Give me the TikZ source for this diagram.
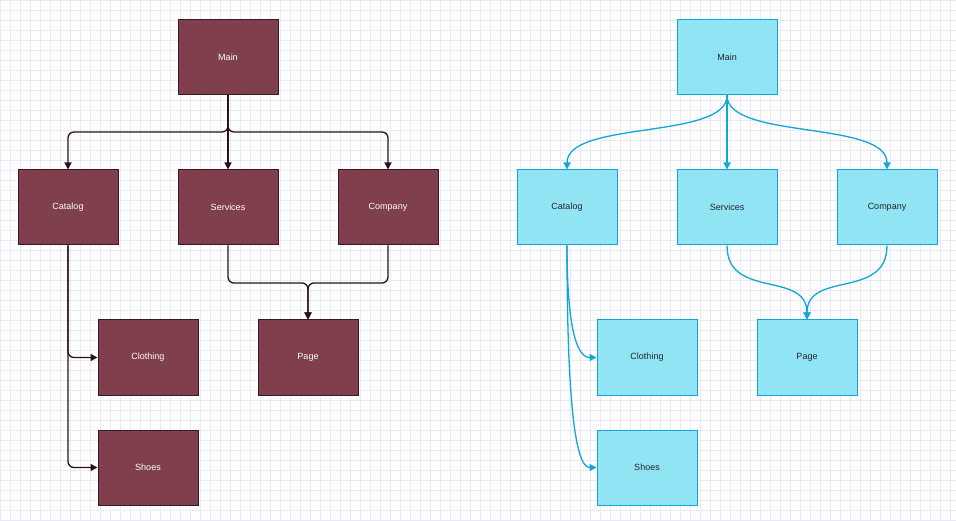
\documentclass[tikz,border=0pt]{standalone}
\usepackage{fontspec}
\setmainfont{Liberation Sans}
\usetikzlibrary{arrows.meta}
\definecolor{lf}{HTML}{7F3F4C}
\definecolor{lb}{HTML}{3A1A22}
\definecolor{la}{HTML}{2A1018}
\definecolor{rf}{HTML}{90E4F4}
\definecolor{rb}{HTML}{10A6D8}
\definecolor{gr}{HTML}{E9E9F7}
\begin{document}
\begin{tikzpicture}[x=1pt,y=-1pt,
  box/.style={draw,minimum width=100pt,minimum height=75pt,inner sep=0pt,font=\fontsize{9}{11}\selectfont,line width=1pt},
  lbox/.style={box,fill=lf,draw=lb,text=white},
  rbox/.style={box,fill=rf,draw=rb,text=black!85},
  la/.style={draw=la,line width=1.3pt,rounded corners=6pt,-{Triangle[length=7pt,width=7pt]}},
  ra/.style={draw=rb,line width=1.3pt,-{Triangle[length=7pt,width=7pt]}}]
\useasboundingbox (0,0) rectangle (956,521);
\fill[white] (0,0) rectangle (956,521);
\draw[gr,line width=0.4pt] (0,0) grid[step=10pt] (956,521);
% left
\node[lbox] (m) at (228,57.5) {Main};
\node[lbox] (c) at (68,207.5) {Catalog};
\node[lbox] (s) at (228,207.5) {Services};
\node[lbox] (co) at (388,207.5) {Company};
\node[lbox] (cl) at (148,357.5) {Clothing};
\node[lbox] (p) at (308,357.5) {Page};
\node[lbox] (sh) at (148,467.5) {Shoes};
\draw[la] (m.south) |- (148,132) -| (c.north);
\draw[la] (m.south) -- (s.north);
\draw[la] (m.south) |- (308,132) -| (co.north);
\draw[la] (s.south) |- (268,283) -| (p.north);
\draw[la] (co.south) |- (348,283) -| (p.north);
\draw[la] (c.south) |- (cl.west);
\draw[la] (c.south) |- (sh.west);
% right
\node[rbox] (m2) at (727,57.5) {Main};
\node[rbox] (c2) at (567,207.5) {Catalog};
\node[rbox] (s2) at (727,207.5) {Services};
\node[rbox] (co2) at (887,207.5) {Company};
\node[rbox] (cl2) at (647,357.5) {Clothing};
\node[rbox] (p2) at (807,357.5) {Page};
\node[rbox] (sh2) at (647,467.5) {Shoes};
\draw[ra] (m2.south) .. controls (727,140) and (567,120) .. (c2.north);
\draw[ra] (m2.south) -- (s2.north);
\draw[ra] (m2.south) .. controls (727,140) and (887,120) .. (co2.north);
\draw[ra] (s2.south) .. controls (727,300) and (807,270) .. (p2.north);
\draw[ra] (co2.south) .. controls (887,300) and (807,270) .. (p2.north);
\draw[ra] (c2.south) .. controls (567,320) and (575,357.5) .. (cl2.west);
\draw[ra] (c2.south) .. controls (567,400) and (575,467.5) .. (sh2.west);
\end{tikzpicture}
\end{document}
